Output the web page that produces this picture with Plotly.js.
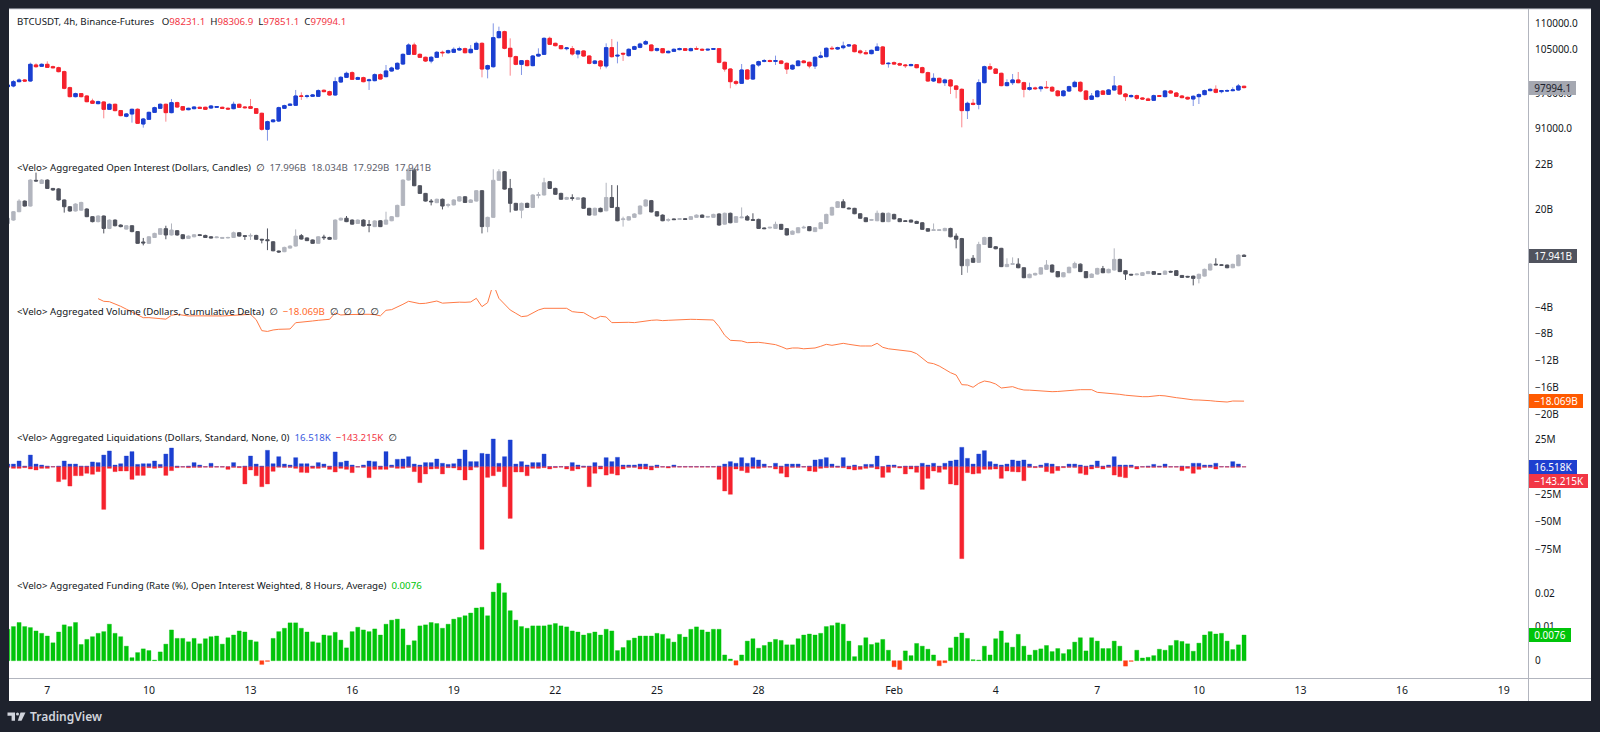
<!DOCTYPE html>
<html><head><meta charset="utf-8">
<script src="https://cdn.plot.ly/plotly-3.0.1.min.js"></script>
<style>html,body{margin:0;padding:0;background:#1e222d;}#chart{width:1600px;height:732px;}</style>
</head><body><div id="chart"></div>
<script>
// ---- time index: 4h bars, first bar 2025-01-05 20:00 UTC ----
const firstBarUTC = Date.UTC(2025, 0, 5, 20);
const barHours = 4;

// ---- BTCUSDT 4h (Binance Futures) ----
const priceOpen = [98160,98280,99040,99340,99160,102040,101800,102160,101730,101550,100830,97980,96420,96940,96530,95670,95220,95500,94260,95110,94040,93090,93480,94260,91820,92590,93750,94430,95110,93700,95390,94710,94200,94370,94600,94600,94480,94600,94600,94430,94370,95110,94650,94710,94370,93590,90950,92200,92310,94430,94940,94940,96530,96480,96480,96480,97520,97290,96710,98980,99810,100650,99460,99750,99220,99220,100290,99930,100950,101310,102220,104000,105750,104000,103450,102770,103450,104380,104310,104380,104810,105060,104310,104940,106070,101310,101730,107150,108310,105130,103570,102160,102830,101920,103690,104000,107020,106070,105630,105060,105060,104070,104630,103690,102340,102770,101860,105250,103690,104190,103760,104940,105310,105940,105750,104750,105060,104310,104560,104880,105060,104690,105060,104940,104810,104940,105060,102530,101310,99040,98750,101130,99510,102040,102710,102830,102710,102770,102340,101310,101920,102770,102530,101860,103450,103570,105130,105000,105250,105570,105750,104630,104310,104130,104750,105380,102280,102470,102280,102040,101920,102100,101550,100650,99160,99630,98860,99340,98280,97690,94040,95280,95110,98860,101730,101310,100530,98340,98860,99340,98860,97690,97930,97810,98040,98040,97400,96590,97400,98160,98920,97400,95960,96420,97400,96820,97580,98280,96880,96420,96590,96190,96020,95790,96590,96420,97400,97050,96530,96300,96020,96420,96770,97460,97690,97290,97400,97460,97580,98231.1];
const priceHigh = [98630,99340,99630,99510,102470,102340,102340,102710,101920,101730,101010,98160,97110,97050,96650,96070,95730,95620,95280,95220,94150,93640,94370,94430,92810,93870,94710,95280,95220,96020,95560,94820,94540,94770,94710,94710,94990,94820,94710,94600,95560,95220,94820,96020,94480,93700,92370,92640,94710,95050,95280,97580,97170,96770,96880,97690,97690,97460,99810,100050,100830,100890,99930,99930,99570,100530,100530,102040,101730,102530,104190,106070,106200,104190,103570,103690,104630,104690,104880,105310,105440,105250,105750,106390,106260,102100,109930,109280,108500,107020,103760,102950,103020,103880,105130,107220,107340,106200,105750,105380,105570,104810,104750,103820,102950,102950,106070,106900,106390,104310,105130,105630,106200,106710,105880,105250,105190,104750,105130,105250,105190,105250,105500,105130,105060,105190,105190,102650,101430,99340,102220,101310,102220,102830,103140,103020,103760,102950,102530,102160,102950,102950,102650,103630,104500,105310,105570,105440,106390,105940,105940,104880,104810,104880,106070,105570,102530,102710,102470,102220,102280,102220,101730,100830,100530,99750,99570,99460,98450,97870,95560,96020,99460,101920,102340,101430,100650,99460,100410,100770,99040,98860,98160,98280,99160,98280,97580,97580,98340,99220,99100,97580,97050,97580,97580,97750,100050,98450,97050,96820,96770,96300,96250,96770,96710,97580,97580,97230,96710,96420,96650,97000,97630,97870,98390,97580,97690,98040,98630,98306.9];
const priceLow = [98040,98040,98920,99040,99040,101550,101670,101490,101430,100710,97690,96300,96300,96300,95450,95160,95110,92750,94150,93920,93090,92920,92040,91820,91220,92480,93640,94320,92200,93590,94540,94040,94090,94260,94320,94150,94370,94480,94320,94150,94260,94480,94370,94320,93480,90730,89120,92040,92150,94320,94820,94820,95850,96130,96360,96360,97170,96590,96590,98860,99690,99340,99340,98920,97580,99100,99400,99810,100830,101190,102100,103880,103880,103320,102590,102340,103320,103570,104070,104250,104690,104190,104190,104810,99810,99630,101550,107020,104940,100110,101980,100230,101800,101800,103570,103880,105750,105500,104940,104750,103760,103260,103570,102160,102160,101250,101430,103390,102340,102770,103570,104810,105130,105820,104560,104500,104190,104190,104440,104750,104630,104560,104880,104690,104690,104810,102340,100830,97870,98390,98630,99400,99340,101730,102530,102530,102040,102160,100410,101130,101800,102340,101430,101310,103260,103450,104810,104810,104940,105380,104380,104000,104000,104000,104630,102100,101550,102100,101920,101490,101800,101430,100530,99040,98980,98750,98280,96880,96130,91270,92640,94940,94260,98750,101190,100410,98220,98220,98450,98750,96300,97460,97580,97290,97870,97230,96420,96420,97230,98040,97170,95790,95850,96300,96710,96710,97460,96770,95670,96250,95850,95900,95670,95670,96360,96300,96940,96360,96130,95900,94820,95160,96650,97340,97000,97000,97230,97340,97460,97851.1];
const priceClose = [98450,99040,99340,99160,102160,101730,102160,101610,101550,100830,97870,96420,96940,96420,95560,95280,95560,94260,95110,94040,93200,93480,94260,91930,92640,93750,94540,95110,93700,95390,94650,94150,94430,94650,94430,94260,94820,94710,94430,94320,95110,94600,94540,94430,93590,90950,92200,92480,94540,94880,95110,96530,96480,96530,96710,97460,97290,96710,99040,99810,100530,99460,99750,99040,99340,100290,99510,100950,101490,102340,104000,105750,104000,103450,102770,103450,104380,104310,104690,104940,105060,104310,104940,106070,101310,101920,107150,108310,105130,103570,102160,102830,101920,103690,104000,107020,105880,105630,105060,105190,104070,104630,103690,102340,102770,101860,105250,103570,103820,104070,104940,105440,105940,106390,104690,105060,104310,104560,104940,105060,104750,105060,105000,104810,104940,105060,102530,101310,99040,98750,101130,99510,102040,102650,102830,102710,102830,102340,101310,101980,102770,102470,101860,103450,103690,105130,105060,105250,105570,105750,104500,104310,104130,104750,105380,102220,102340,102220,102040,101920,102100,101550,100650,99160,99630,98860,99340,98280,97690,94040,95280,95110,98860,101730,101310,100530,98340,98860,99340,98860,97690,97980,97810,98100,97980,97400,96590,97400,98160,98920,97400,95960,96530,97400,96820,97580,98280,96880,96420,96590,96130,96020,95790,96590,96480,97400,97050,96480,96250,96020,96480,96770,97460,97690,97170,97460,97460,97580,98280,97994.1];

// ---- <Velo> Aggregated Open Interest (billions USD) ----
const oiOpen = [19.40,19.55,19.92,20.39,20.17,21.31,21.17,21.32,20.95,20.93,20.44,20.14,19.95,19.99,20.04,19.70,19.48,19.73,19.18,19.55,19.33,19.15,19.30,19.04,18.58,18.52,18.78,18.92,19.17,18.89,19.08,18.90,18.74,18.81,18.90,18.87,18.81,18.77,18.74,18.76,18.78,18.99,18.86,18.84,18.87,18.70,18.68,18.59,18.18,18.15,18.31,18.40,18.86,18.76,18.67,18.52,18.80,18.78,18.70,19.55,19.63,19.55,19.40,19.55,19.35,19.26,19.52,19.37,19.52,19.70,20.20,21.32,21.76,21.07,20.73,20.39,20.32,20.47,20.20,20.22,20.39,20.58,20.33,20.39,20.85,19.26,19.67,21.31,21.69,20.95,20.29,19.99,20.29,20.11,20.64,20.66,21.25,20.95,20.73,20.47,20.54,20.47,20.53,20.07,19.77,20.07,19.96,20.55,20.11,19.57,19.55,19.67,19.82,20.17,20.41,19.92,19.77,19.54,19.60,19.58,19.61,19.58,19.67,19.77,19.68,19.67,19.82,19.37,19.85,19.45,19.65,19.70,19.57,19.58,19.20,19.20,19.18,19.36,19.17,18.92,18.99,19.20,19.26,19.04,19.17,19.40,19.77,20.11,20.36,20.08,20.07,19.83,19.65,19.54,19.52,19.85,19.48,19.80,19.61,19.52,19.55,19.49,19.43,19.17,19.09,19.09,19.08,19.18,18.84,18.73,17.53,17.86,17.68,18.47,18.78,18.37,18.30,17.49,17.59,17.60,17.44,17.00,17.12,17.16,17.37,17.56,17.27,17.04,17.22,17.44,17.60,17.27,17.01,17.16,17.40,17.22,17.34,17.81,17.31,17.15,17.13,17.10,17.18,17.27,17.18,17.15,17.28,17.31,17.10,17.06,17.07,16.97,17.07,17.34,17.60,17.57,17.56,17.44,17.53,17.996];
const oiHigh = [19.65,19.95,20.47,20.42,21.35,21.65,21.36,21.35,20.97,20.96,20.46,20.17,20.29,20.36,20.07,19.72,19.76,19.75,19.58,19.58,19.36,19.33,19.32,19.06,18.76,18.84,18.99,19.20,19.30,19.40,19.11,18.93,18.87,18.93,18.93,18.90,18.84,18.82,18.80,18.81,19.04,19.01,18.88,18.96,18.90,18.72,19.18,18.62,18.20,18.37,18.43,19.14,18.93,18.78,18.69,18.84,18.90,18.81,19.58,19.66,19.73,19.58,19.58,19.58,19.55,19.54,19.55,19.92,19.73,20.23,21.35,21.84,21.84,21.09,20.75,20.48,20.50,20.50,20.29,20.47,20.61,20.61,20.47,20.88,20.88,19.70,21.80,21.80,21.72,21.37,20.31,20.32,20.32,20.69,20.79,21.42,21.28,20.98,20.76,20.58,20.69,20.56,20.56,20.09,20.10,20.10,21.20,21.10,21.09,19.70,19.73,19.85,20.20,20.47,20.44,19.95,19.80,19.63,19.62,19.63,19.63,19.73,19.80,19.80,19.73,19.83,19.85,19.88,19.88,19.73,20.11,19.77,19.85,19.61,19.22,19.25,19.48,19.38,19.19,19.09,19.24,19.30,19.28,19.24,19.46,19.83,20.14,20.39,20.47,20.11,20.09,19.85,19.67,19.60,19.97,19.88,19.88,19.83,19.63,19.55,19.57,19.52,19.46,19.19,19.40,19.15,19.21,19.21,18.96,18.76,17.84,18.00,18.59,18.81,18.81,18.40,18.32,17.86,17.90,17.86,17.46,17.18,17.22,17.47,17.78,17.59,17.29,17.25,17.49,17.71,17.63,17.29,17.19,17.44,17.52,17.40,18.30,17.84,17.34,17.17,17.18,17.25,17.30,17.29,17.20,17.32,17.31,17.34,17.12,17.08,17.09,17.18,17.40,17.63,17.86,17.59,17.58,17.62,18.03,18.034];
const oiLow = [19.38,19.52,19.90,20.15,20.15,21.25,21.15,20.93,20.85,20.42,19.88,19.92,19.93,19.97,19.68,19.45,19.45,18.96,19.15,19.27,19.23,19.13,19.01,18.50,18.43,18.50,18.76,18.90,18.70,18.87,18.86,18.70,18.72,18.79,18.84,18.76,18.74,18.75,18.72,18.74,18.76,18.82,18.67,18.67,18.67,18.52,18.22,18.17,18.10,18.13,18.29,18.38,18.69,18.62,18.50,18.50,18.67,18.68,18.68,19.53,19.46,19.35,19.38,19.27,19.01,19.24,19.24,19.35,19.50,19.68,20.18,21.30,21.05,20.71,20.37,20.20,20.30,20.02,20.11,20.20,20.37,20.31,20.31,20.37,18.96,19.01,19.65,21.29,20.90,19.89,19.97,19.63,20.09,20.09,20.51,20.64,20.93,20.67,20.45,20.45,20.41,20.45,20.05,19.75,19.75,19.90,19.94,20.09,19.50,19.26,19.53,19.65,19.80,20.15,19.89,19.71,19.50,19.48,19.55,19.56,19.56,19.56,19.65,19.65,19.66,19.65,19.30,19.35,19.41,19.43,19.63,19.53,19.52,19.16,19.15,19.18,19.16,19.12,18.87,18.90,18.97,19.18,19.06,19.02,19.15,19.38,19.75,20.09,20.08,20.03,19.81,19.61,19.46,19.52,19.50,19.46,19.46,19.58,19.46,19.47,19.44,19.38,19.12,19.04,19.07,19.07,19.06,18.79,18.30,17.12,17.22,17.66,17.66,18.45,18.32,18.26,17.47,17.47,17.57,17.42,16.98,16.98,17.10,17.14,17.35,17.23,17.02,17.02,17.20,17.42,17.25,16.98,16.99,17.14,17.20,17.20,17.32,17.25,16.90,17.10,17.11,17.08,17.16,17.13,17.13,17.13,17.23,17.08,16.99,17.01,16.66,16.75,17.05,17.32,17.55,17.53,17.42,17.42,17.51,17.929];
const oiClose = [19.63,19.92,20.39,20.17,21.32,21.28,21.32,20.95,20.88,20.44,20.14,19.95,20.26,20.33,19.70,19.48,19.73,19.18,19.55,19.30,19.26,19.30,19.04,18.52,18.54,18.81,18.96,19.17,18.89,19.11,18.89,18.73,18.84,18.90,18.87,18.78,18.76,18.80,18.78,18.78,18.99,18.84,18.83,18.87,18.70,18.67,18.64,18.19,18.14,18.34,18.40,18.84,18.71,18.64,18.52,18.81,18.77,18.70,19.55,19.63,19.48,19.37,19.55,19.29,19.32,19.51,19.26,19.55,19.70,20.20,21.32,21.81,21.07,20.73,20.39,20.36,20.47,20.17,20.23,20.44,20.58,20.33,20.44,20.85,19.26,19.67,21.31,21.69,20.92,20.29,19.99,20.29,20.11,20.66,20.67,21.20,20.95,20.69,20.47,20.55,20.51,20.53,20.07,19.77,20.07,19.92,20.55,20.11,19.52,19.60,19.70,19.82,20.17,20.44,19.91,19.73,19.52,19.57,19.57,19.61,19.58,19.70,19.77,19.67,19.71,19.80,19.33,19.85,19.43,19.70,19.68,19.55,19.54,19.18,19.17,19.23,19.36,19.14,18.89,19.06,19.21,19.23,19.08,19.21,19.43,19.80,20.11,20.36,20.10,20.05,19.83,19.63,19.48,19.57,19.85,19.48,19.85,19.60,19.48,19.49,19.46,19.40,19.14,19.06,19.12,19.12,19.18,18.81,18.70,17.53,17.81,17.68,18.47,18.78,18.34,18.28,17.49,17.59,17.62,17.44,17.00,17.15,17.19,17.44,17.56,17.25,17.04,17.22,17.46,17.63,17.27,17.00,17.16,17.41,17.22,17.37,17.81,17.27,17.16,17.12,17.16,17.22,17.27,17.15,17.15,17.29,17.25,17.10,17.01,17.03,16.97,17.15,17.37,17.60,17.57,17.55,17.44,17.59,18.00,17.941];

// ---- <Velo> Aggregated Volume, cumulative delta (billions USD) ----
const cumDelta = [null,null,null,null,null,null,null,null,null,null,null,null,null,null,null,null,
-2.70,-3.10,-3.16,-3.45,-3.85,
-4.28,-4.75,-5.20,-5.56,-5.55,-5.58,-5.70,-5.78,-5.20,-5.05,
-5.20,-5.30,-5.28,-5.30,-5.32,-5.28,-5.30,-5.30,-5.26,-5.22,
-5.20,-5.08,-5.05,-5.85,-7.50,-7.62,-7.40,-7.30,-7.30,-7.25,
-6.31,-6.25,-6.15,-6.05,-5.95,-5.85,-5.80,-4.85,-5.15,-5.10,
-5.05,-5.05,-5.05,-5.05,-5.10,-5.28,-4.45,-4.35,-4.00,-3.55,
-3.10,-3.25,-3.45,-3.40,-3.20,-3.06,-3.38,-3.30,-3.22,-3.23,
-3.25,-3.20,-2.65,-3.90,-3.30,-0.50,-2.65,-3.60,-4.40,-4.90,
-5.40,-5.30,-4.85,-4.40,-4.15,-4.12,-4.15,-4.15,-4.15,-4.65,
-4.75,-4.80,-5.30,-5.75,-5.35,-5.45,-6.30,-6.25,-6.20,-6.25,
-6.30,-6.15,-6.05,-5.95,-5.90,-6.00,-5.95,-5.90,-5.88,-5.85,
-5.80,-5.82,-5.85,-5.88,-5.90,-6.90,-8.20,-8.95,-9.05,-9.05,
-9.30,-9.28,-9.25,-9.35,-9.45,-9.60,-9.90,-10.25,-10.10,-10.10,
-10.22,-10.20,-10.10,-9.85,-9.55,-9.70,-9.60,-9.40,-9.55,-9.70,
-9.80,-9.80,-9.80,-9.40,-10.00,-10.22,-10.30,-10.40,-10.50,-10.62,
-10.95,-11.60,-12.30,-12.45,-12.80,-13.30,-13.80,-14.15,-15.60,-15.65,
-15.99,-15.40,-15.05,-15.20,-15.50,-16.10,-16.00,-15.90,-16.20,-16.40,
-16.42,-16.50,-16.55,-16.58,-16.65,-16.62,-16.58,-16.55,-16.42,-16.35,
-16.30,-16.35,-16.75,-16.80,-16.85,-16.95,-17.05,-17.18,-17.25,-17.38,
-17.40,-17.40,-17.32,-17.22,-17.28,-17.45,-17.55,-17.65,-17.78,-17.88,
-17.90,-17.92,-18.00,-18.09,-18.15,-18.20,-18.05,-18.03,-18.069];

// ---- <Velo> Aggregated Liquidations (millions USD) ----
const liqShorts = [2.5,
2.5,5.3,0.7,10.7,2.5,1.6,0.7,0.2,0.7,5.3,
2.5,2.5,0.7,0.7,4.4,3.8,10.7,14.4,1.6,2.8,
9.8,13.8,2.2,2.8,2.8,5.3,2.2,11.6,17.1,0.7,
0.2,0.7,3.8,1.6,0.2,3.2,0.2,0.2,0.1,3.8,
0.2,0.7,9.8,2.5,0.7,15.0,2.8,9.2,2.5,1.6,
8.3,2.8,2.8,0.7,3.8,2.5,0.7,13.5,4.1,5.3,
1.6,0.2,1.6,5.3,4.7,0.7,13.8,1.6,6.8,7.1,
9.2,2.5,1.6,3.8,3.8,7.1,3.2,2.2,2.8,7.1,
15.3,4.7,4.7,12.2,11.6,25.3,3.2,9.2,24.4,2.5,
4.7,1.6,3.8,3.8,11.6,0.3,0.3,0.3,0.3,3.8,
1.6,0.7,0.7,3.8,0.7,8.3,4.7,8.6,1.6,1.6,
1.6,2.5,2.5,0.7,1.6,0.2,0.2,1.6,0.3,0.3,
0.3,0.3,0.3,0.3,0.3,0.7,2.5,4.7,3.2,8.3,
3.2,8.3,6.2,2.5,0.2,3.2,0.7,2.5,2.5,2.5,
0.3,0.7,6.2,6.8,8.3,2.5,0.7,8.3,0.7,1.6,
0.2,2.2,2.2,9.8,0.2,1.6,1.6,0.2,0.7,0.7,
0.7,3.2,1.6,3.2,0.7,3.2,5.3,6.2,17.7,7.7,
2.5,11.6,14.7,4.7,2.5,1.6,2.5,6.2,5.3,6.2,
2.5,0.2,1.6,3.2,2.5,0.2,0.2,2.5,2.5,1.6,
0.7,1.6,5.3,0.7,1.6,9.2,1.6,1.6,1.6,0.2,
0.2,0.7,2.2,0.7,2.5,0.2,0.2,0.7,0.2,3.2,
3.2,1.6,1.6,3.2,0.2,0.2,4.7,2.5,0.016518];
const liqLongs = [-0.5,
-1.4,-1.4,-0.8,-2.0,-2.9,-1.4,-1.4,-0.2,-13.5,-11.4,
-17.5,-8.1,-8.1,-5.9,-6.8,-4.4,-38.7,-1.4,-4.4,-3.8,
-3.8,-11.4,-7.8,-7.8,-0.8,-1.4,-0.8,-7.8,-3.5,-0.8,
-0.3,-0.8,-0.5,-0.5,-0.3,-0.5,-0.3,-0.3,-2.3,-0.5,
-0.8,-15.6,-2.9,-8.1,-18.1,-15.6,-4.1,-0.3,-0.5,-0.5,
-1.4,-5.0,-5.3,-1.4,-1.4,-0.5,-2.3,-4.7,-1.4,-2.3,
-5.3,-0.3,-0.5,-9.9,-2.3,-2.3,-2.3,-0.5,-1.4,-1.4,
-0.5,-4.4,-14.4,-6.5,-2.0,-1.7,-6.5,-0.8,-1.1,-2.9,
-12.0,-2.9,-0.3,-75.0,-9.6,-8.1,-4.4,-18.1,-46.9,-4.7,
-4.7,-8.1,-1.4,-1.4,-0.8,-2.0,-0.8,-0.3,-2.0,-3.5,
-2.0,-0.5,-18.1,-5.9,-2.0,-7.5,-6.2,-7.5,-2.0,-0.5,
-0.5,-2.0,-2.0,-2.9,-0.8,-0.3,-1.1,-0.3,-0.3,-0.3,
-0.3,-0.3,-0.3,-0.3,-0.3,-11.4,-22.0,-25.0,-2.0,-3.5,
-5.3,-1.4,-1.4,-0.5,-0.3,-2.0,-5.9,-9.3,-0.5,-0.5,
-0.3,-3.8,-4.4,-1.4,-0.8,-0.5,-0.5,-0.8,-2.0,-2.9,
-2.3,-1.4,-0.5,-2.0,-9.6,-5.0,-0.5,-1.1,-6.5,-2.0,
-5.0,-20.5,-10.5,-3.8,-5.0,-2.3,-15.6,-16.5,-83.5,-5.3,
-6.5,-5.9,-2.3,-2.3,-2.0,-10.5,-3.8,-4.4,-4.7,-12.6,
-0.5,-0.8,-0.5,-4.4,-5.9,-3.5,-0.8,-0.5,-0.5,-5.9,
-7.2,-2.0,-0.8,-2.0,-0.5,-7.5,-9.0,-9.9,-0.5,-2.0,
-0.3,-0.5,-0.5,-0.3,-0.5,-0.3,-0.3,-3.5,-1.4,-5.9,
-2.3,-0.5,-0.5,-2.0,-0.2,-0.3,-0.5,-0.3,-0.143215];

// ---- <Velo> Aggregated Funding (rate %, OI weighted, 8h) ----
const funding = [0.0093,0.0101,0.0113,0.0101,0.0098,0.0088,0.0081,0.0073,0.0053,0.0085,0.0106,
0.0101,0.0113,0.0048,0.0063,0.0071,0.0081,0.0086,0.0108,0.0081,0.0071,
0.0043,0.0009,0.0024,0.0035,0.0030,0.0002,0.0026,0.0049,0.0091,0.0066,
0.0066,0.0056,0.0066,0.0050,0.0065,0.0071,0.0073,0.0049,0.0068,0.0076,
0.0088,0.0085,0.0061,0.0056,-0.0011,-0.0002,0.0066,0.0086,0.0096,0.0112,
0.0112,0.0096,0.0085,0.0056,0.0053,0.0076,0.0074,0.0084,0.0061,0.0038,
0.0086,0.0099,0.0091,0.0086,0.0094,0.0076,0.0108,0.0120,0.0123,0.0094,
0.0046,0.0059,0.0103,0.0106,0.0113,0.0110,0.0096,0.0108,0.0123,0.0128,
0.0133,0.0141,0.0156,0.0158,0.0133,0.0203,0.0229,0.0201,0.0148,0.0120,
0.0101,0.0096,0.0103,0.0103,0.0103,0.0106,0.0110,0.0103,0.0100,0.0088,
0.0085,0.0076,0.0081,0.0085,0.0076,0.0093,0.0088,0.0030,0.0039,0.0060,
0.0067,0.0073,0.0073,0.0073,0.0081,0.0078,0.0065,0.0055,0.0078,0.0070,
0.0093,0.0100,0.0091,0.0085,0.0093,0.0093,0.0017,0.0005,-0.0013,0.0017,
0.0058,0.0065,0.0037,0.0045,0.0055,0.0063,0.0060,0.0047,0.0047,0.0065,
0.0076,0.0079,0.0076,0.0081,0.0101,0.0104,0.0112,0.0108,0.0058,0.0012,
0.0045,0.0068,0.0048,0.0053,0.0063,0.0031,-0.0018,-0.0026,0.0029,0.0015,
0.0051,0.0043,0.0034,0.0017,-0.0015,-0.0006,0.0038,0.0070,0.0082,0.0066,
0.0003,0.0002,0.0043,0.0017,0.0065,0.0088,0.0053,0.0040,0.0078,0.0043,
0.0017,0.0031,0.0035,0.0045,0.0027,0.0036,0.0021,0.0033,0.0055,0.0068,
0.0029,0.0068,0.0058,0.0036,0.0036,0.0058,0.0043,-0.0016,-0.0002,0.0031,
0.0008,0.0010,0.0015,0.0034,0.0031,0.0045,0.0060,0.0057,0.0050,0.0028,
0.0052,0.0076,0.0086,0.0079,0.0081,0.0058,0.0033,0.0047,0.0076];

// ---- axis tick labels (ticks hidden behind the value labels are left out) ----
const dateTickVals = ['2025-01-07','2025-01-10','2025-01-13','2025-01-16','2025-01-19','2025-01-22','2025-01-25','2025-01-28','2025-02-01','2025-02-04','2025-02-07','2025-02-10','2025-02-13','2025-02-16','2025-02-19'];
const dateTickText = ['7','10','13','16','19','22','25','28','Feb','4','7','10','13','16','19'];
const priceTicks = [91000, 97000, 105000, 110000];
const oiTicks = [20, 22];
const deltaTicks = [-20, -16, -12, -8, -4];
const liqTicks = [-75, -50, -25, 25];
const fundTicks = [0, 0.01, 0.02];

// ================= build =================
const times = priceOpen.map((_, k) => new Date(firstBarUTC + k * barHours * 3600e3).toISOString().slice(0, 19).replace('T', ' '));
const last = priceOpen.length - 1;
const minus = s => s.replace('-', '\u2212');

const BLUE = '#1b3fd1', RED = '#f5222d', GREEN = '#00c40a', FRED = '#ff3d14';
const OI_UP = '#b2b5be', OI_DN = '#50535e', ORANGE = '#ff7a45';
const FONT = 'Noto Sans, DejaVu Sans, sans-serif';

// pixel layout helpers (figure is 1600x732, plot area x 9..1529, y 9..678)
const L = 9, R = 1529, T = 9, B = 678;
const fx = p => (p - L) / (R - L);
const fy = p => (B - p) / (B - T);

const bodyHigh = priceOpen.map((o, k) => Math.max(o, priceClose[k]));
const bodyLow = priceOpen.map((o, k) => Math.min(o, priceClose[k]));
const barW = barHours * 3600e3 * 0.72;

const traces = [
  {type:'candlestick', x:times, open:priceOpen, high:priceHigh, low:priceLow, close:priceClose, xaxis:'x', yaxis:'y',
   increasing:{line:{color:'rgba(27,63,209,0.55)', width:1}, fillcolor:'rgba(0,0,0,0)'},
   decreasing:{line:{color:'rgba(245,34,45,0.55)', width:1}, fillcolor:'rgba(0,0,0,0)'},
   whiskerwidth:0, hoverinfo:'skip', showlegend:false},
  {type:'candlestick', x:times, open:priceOpen, high:bodyHigh, low:bodyLow, close:priceClose, xaxis:'x', yaxis:'y',
   increasing:{line:{color:BLUE, width:1}, fillcolor:BLUE},
   decreasing:{line:{color:RED, width:1}, fillcolor:RED},
   whiskerwidth:0, hoverinfo:'skip', showlegend:false},
  {type:'candlestick', x:times, open:oiOpen, high:oiHigh, low:oiLow, close:oiClose, xaxis:'x', yaxis:'y2',
   increasing:{line:{color:OI_UP, width:1}, fillcolor:OI_UP},
   decreasing:{line:{color:OI_DN, width:1}, fillcolor:OI_DN},
   whiskerwidth:0, hoverinfo:'skip', showlegend:false},
  {type:'scatter', mode:'lines', x:times, y:cumDelta, xaxis:'x', yaxis:'y3',
   line:{color:ORANGE, width:1}, connectgaps:false, hoverinfo:'skip', showlegend:false},
  {type:'bar', x:times, y:liqShorts, xaxis:'x', yaxis:'y4', width:barW,
   marker:{color:BLUE, line:{color:'rgba(27,63,209,0.35)', width:1}}, hoverinfo:'skip', showlegend:false},
  {type:'bar', x:times, y:liqLongs, xaxis:'x', yaxis:'y4', width:barW,
   marker:{color:RED, line:{color:'rgba(245,34,45,0.35)', width:1}}, hoverinfo:'skip', showlegend:false},
  {type:'bar', x:times, y:funding, xaxis:'x', yaxis:'y5', width:barW,
   marker:{color:funding.map(v => v >= 0 ? GREEN : FRED),
           line:{color:funding.map(v => v >= 0 ? 'rgba(0,196,10,0.35)' : 'rgba(255,61,20,0.35)'), width:1}},
   hoverinfo:'skip', showlegend:false}
];

const tickFont = {family:FONT, size:10, color:'#131722'};
const yBase = {side:'right', anchor:'x', showgrid:false, zeroline:false, showline:false, ticks:'',
  tickfont:tickFont, ticklabelstandoff:5, fixedrange:true, tickmode:'array'};

const layout = {
  width:1600, height:732, autosize:false,
  margin:{l:L, r:1600 - R, t:T, b:732 - B, pad:0},
  paper_bgcolor:'#1e222d', plot_bgcolor:'#ffffff',
  font:{family:FONT, size:10, color:'#131722'},
  showlegend:false, barmode:'relative', boxgap:0.2, boxgroupgap:0.25, bargap:0,
  xaxis:{type:'date', anchor:'y5', range:['2025-01-05 20:51:40','2025-02-19 17:55:00'],
    showgrid:false, zeroline:false, showline:false, ticks:'', tickmode:'array',
    tickvals:dateTickVals, ticktext:dateTickText, tickfont:{family:FONT, size:10.5, color:'#131722'},
    ticklabelstandoff:4, rangeslider:{visible:false}, fixedrange:true},
  yaxis: Object.assign({}, yBase, {domain:[fy(154), 1], type:'log', range:[4.939606, 5.052271],
    tickvals:priceTicks, ticktext:priceTicks.map(v => v.toFixed(1))}),
  yaxis2: Object.assign({}, yBase, {domain:[fy(290), fy(154)], range:[16.4558, 22.4735],
    tickvals:oiTicks, ticktext:oiTicks.map(v => v + 'B')}),
  yaxis3: Object.assign({}, yBase, {domain:[fy(423), fy(290)], range:[-21.346, -1.4063],
    tickvals:deltaTicks, ticktext:deltaTicks.map(v => minus(v + 'B'))}),
  yaxis4: Object.assign({}, yBase, {domain:[fy(572), fy(423)], range:[-95.64, 39.82],
    tickvals:liqTicks, ticktext:liqTicks.map(v => minus(v + 'M'))}),
  yaxis5: Object.assign({}, yBase, {domain:[0, fy(572)], range:[-0.005118, 0.026243],
    tickvals:fundTicks, ticktext:fundTicks.map(v => String(v))}),
  shapes:[
    {type:'rect', xref:'paper', yref:'paper', x0:fx(9), x1:fx(1591), y0:fy(701), y1:fy(9), fillcolor:'#ffffff', line:{width:0}, layer:'below'},
    {type:'line', xref:'paper', yref:'paper', x0:fx(9), x1:fx(1591), y0:fy(9), y1:fy(9), line:{color:'#d1d4dc', width:1}},
    {type:'line', xref:'paper', yref:'paper', x0:fx(1528.5), x1:fx(1528.5), y0:fy(701), y1:fy(9), line:{color:'#b2b5be', width:1}},
    {type:'line', xref:'paper', yref:'paper', x0:fx(9), x1:fx(1591), y0:fy(678.5), y1:fy(678.5), line:{color:'#b2b5be', width:1}},
    {type:'line', xref:'paper', yref:'y', x0:0, x1:1, y0:Math.log10(priceClose[last]), y1:Math.log10(priceClose[last]), line:{color:'#9598a1', width:1, dash:'dot'}},
    // TradingView logo
    {type:'path', xref:'paper', yref:'paper', path:'M '+fx(7.5)+' '+fy(712.5)+' L '+fx(15)+' '+fy(712.5)+' L '+fx(15)+' '+fy(720.7)+' L '+fx(11.6)+' '+fy(720.7)+' L '+fx(11.6)+' '+fy(715.8)+' L '+fx(7.5)+' '+fy(715.8)+' Z', fillcolor:'#d1d4dc', line:{width:0}},
    {type:'circle', xref:'paper', yref:'paper', x0:fx(16), x1:fx(19), y0:fy(715.5), y1:fy(712.5), fillcolor:'#d1d4dc', line:{width:0}},
    {type:'path', xref:'paper', yref:'paper', path:'M '+fx(20.5)+' '+fy(712.5)+' L '+fx(25.5)+' '+fy(712.5)+' L '+fx(21.5)+' '+fy(720.7)+' L '+fx(17.8)+' '+fy(720.7)+' Z', fillcolor:'#d1d4dc', line:{width:0}}
  ],
  annotations:[]
};

const HF = 9.7;
const nb = '&nbsp;';
const sp = n => nb.repeat(n);
const hdr = (y, text) => ({xref:'paper', yref:'paper', x:fx(15), y:fy(y), xanchor:'left', yanchor:'middle', showarrow:false, align:'left', text:text, font:{family:FONT, size:HF, color:'#131722'}});
const pr = v => '<span style="color:#f23645">' + v.toFixed(1) + '</span>';
layout.annotations.push(hdr(21, 'BTCUSDT, 4h, Binance-Futures' + sp(3) + 'O' + pr(priceOpen[last]) + sp(2) + 'H' + pr(priceHigh[last]) + sp(2) + 'L' + pr(priceLow[last]) + sp(2) + 'C' + pr(priceClose[last])));
const gr = v => '<span style="color:#5d606b">' + v.toFixed(3) + 'B</span>';
layout.annotations.push(hdr(167, '&lt;Velo&gt; Aggregated Open Interest (Dollars, Candles)' + sp(2) + '∅' + sp(2) + gr(oiOpen[last]) + sp(2) + gr(oiHigh[last]) + sp(2) + gr(oiLow[last]) + sp(2) + gr(oiClose[last])));
layout.annotations.push(hdr(311, '&lt;Velo&gt; Aggregated Volume (Dollars, Cumulative Delta)' + sp(2) + '∅' + sp(2) + '<span style="color:#ff6a2b">' + minus(cumDelta[last].toFixed(3)) + 'B</span>' + sp(2) + '∅' + sp(2) + '∅' + sp(2) + '∅' + sp(2) + '∅'));
layout.annotations.push(hdr(437, '&lt;Velo&gt; Aggregated Liquidations (Dollars, Standard, None, 0)' + sp(2) + '<span style="color:#3b5be0">' + (liqShorts[last] * 1000).toFixed(3) + 'K</span>' + sp(2) + '<span style="color:#f23645">' + minus((liqLongs[last] * 1000).toFixed(3)) + 'K</span>' + sp(2) + '∅'));
layout.annotations.push(hdr(585, '&lt;Velo&gt; Aggregated Funding (Rate (%), Open Interest Weighted, 8 Hours, Average)' + sp(2) + '<span style="color:#00c40a">' + funding[last].toFixed(4) + '</span>'));

const axLabel = (yref, y, text, bg, fg, yshift) => ({xref:'paper', yref:yref, x:1, y:y, xanchor:'left', yanchor:'middle', showarrow:false,
  text:sp(2) + text + sp(2), bgcolor:bg, borderpad:0, borderwidth:0, yshift:yshift || 0, font:{family:FONT, size:10, color:fg}});
layout.annotations.push(axLabel('y', Math.log10(priceClose[last]), priceClose[last].toFixed(1), '#a5a8b1', '#1e222d'));
layout.annotations.push(axLabel('y2', oiClose[last], oiClose[last].toFixed(3) + 'B', '#50535e', '#ffffff'));
layout.annotations.push(axLabel('y3', cumDelta[last], minus(cumDelta[last].toFixed(3)) + 'B', '#ff5a00', '#ffffff'));
layout.annotations.push(axLabel('y4', liqShorts[last], (liqShorts[last] * 1000).toFixed(3) + 'K', '#1f3fcf', '#ffffff'));
layout.annotations.push(axLabel('y4', liqLongs[last], minus((liqLongs[last] * 1000).toFixed(3)) + 'K', '#f23645', '#ffffff', -14.5));
layout.annotations.push(axLabel('y5', funding[last], funding[last].toFixed(4), '#00c40a', '#ffffff'));

layout.annotations.push({xref:'paper', yref:'paper', x:fx(28), y:fy(716.7), xanchor:'left', yanchor:'middle', showarrow:false,
  text:'TradingView', font:{family:FONT, size:12, color:'#d1d4dc', weight:600}});

Plotly.newPlot('chart', traces, layout, {staticPlot:true, displayModeBar:false});
</script>
</body></html>
